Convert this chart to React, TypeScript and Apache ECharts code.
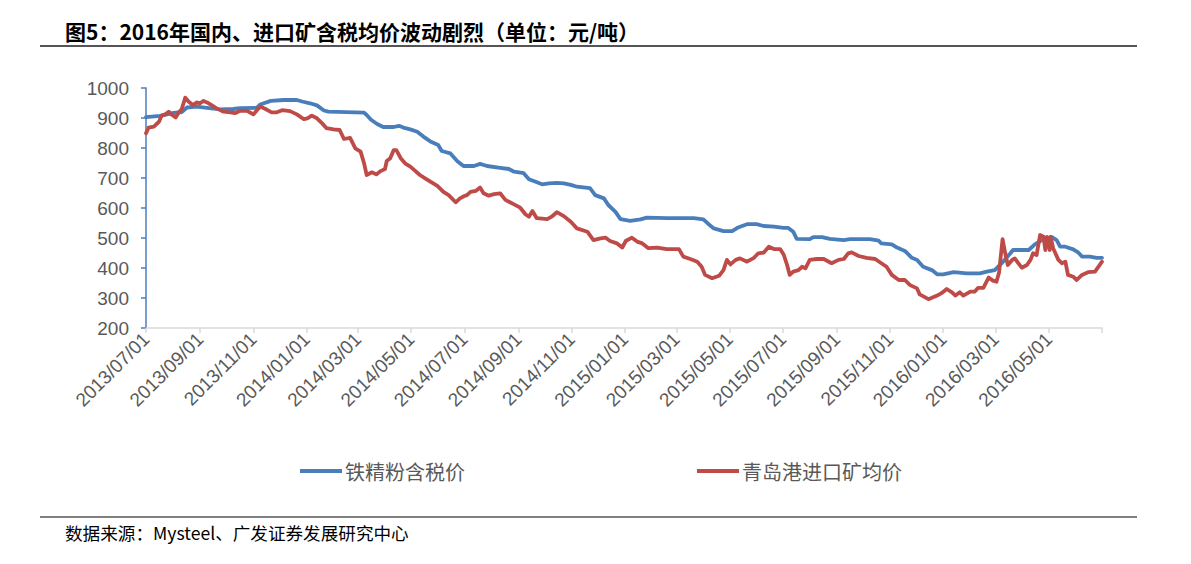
import { useEffect, useRef } from 'react';
import * as echarts from 'echarts';

const AXIS_START = '2013/07/01';
const AXIS_END = '2016/07/01';

const tickLabels = [
  '2013/07/01', '2013/09/01', '2013/11/01', '2014/01/01', '2014/03/01', '2014/05/01',
  '2014/07/01', '2014/09/01', '2014/11/01', '2015/01/01', '2015/03/01', '2015/05/01',
  '2015/07/01', '2015/09/01', '2015/11/01', '2016/01/01', '2016/03/01', '2016/05/01',
];
const extraTicks = ['2016/07/01'];

const yTicks = { min: 200, max: 1000, interval: 100 };

const seriesNames = ['铁精粉含税价', '青岛港进口矿均价'];

const domesticPrice: [string, number][] = [
  ['2013/07/01', 903], ['2013/07/17', 907], ['2013/07/25', 912], ['2013/08/02', 917], ['2013/08/11', 920],
  ['2013/08/17', 935], ['2013/08/28', 938], ['2013/09/09', 934], ['2013/09/24', 929], ['2013/10/09', 930],
  ['2013/10/17', 933], ['2013/11/05', 934], ['2013/11/09', 945], ['2013/11/21', 957], ['2013/12/06', 960],
  ['2013/12/21', 960], ['2013/12/27', 955], ['2014/01/05', 949], ['2014/01/13', 942], ['2014/01/21', 925],
  ['2014/01/26', 921], ['2014/03/08', 918], ['2014/03/11', 910], ['2014/03/16', 894], ['2014/03/23', 880],
  ['2014/03/30', 870], ['2014/04/11', 870], ['2014/04/17', 874], ['2014/04/22', 868], ['2014/04/30', 862],
  ['2014/05/08', 854], ['2014/05/15', 838], ['2014/05/23', 822], ['2014/06/01', 810], ['2014/06/05', 790],
  ['2014/06/15', 782], ['2014/06/23', 756], ['2014/06/30', 740], ['2014/07/04', 740], ['2014/07/12', 740],
  ['2014/07/19', 747], ['2014/07/27', 740], ['2014/08/11', 734], ['2014/08/21', 730], ['2014/08/27', 721],
  ['2014/09/07', 716], ['2014/09/13', 696], ['2014/09/20', 688], ['2014/09/28', 679], ['2014/10/06', 682],
  ['2014/10/15', 684], ['2014/10/23', 682], ['2014/10/31', 677], ['2014/11/07', 671], ['2014/11/22', 666],
  ['2014/11/28', 643], ['2014/12/08', 632], ['2014/12/13', 610], ['2014/12/21', 588], ['2014/12/27', 563],
  ['2015/01/07', 557], ['2015/01/19', 562], ['2015/01/26', 568], ['2015/02/18', 566], ['2015/03/21', 566],
  ['2015/04/01', 562], ['2015/04/07', 546], ['2015/04/13', 532], ['2015/04/24', 523], ['2015/05/04', 523],
  ['2015/05/10', 534], ['2015/05/21', 546], ['2015/06/01', 546], ['2015/06/09', 540], ['2015/06/21', 538],
  ['2015/07/02', 534], ['2015/07/07', 534], ['2015/07/13', 521], ['2015/07/17', 497], ['2015/08/01', 496],
  ['2015/08/05', 503], ['2015/08/15', 503], ['2015/08/24', 497], ['2015/09/09', 493], ['2015/09/16', 496],
  ['2015/10/09', 496], ['2015/10/19', 491], ['2015/10/22', 482], ['2015/11/03', 479], ['2015/11/09', 468],
  ['2015/11/18', 457], ['2015/11/26', 434], ['2015/12/02', 427], ['2015/12/09', 404], ['2015/12/19', 393],
  ['2015/12/25', 379], ['2016/01/01', 379], ['2016/01/13', 386], ['2016/01/28', 382], ['2016/02/12', 382],
  ['2016/02/20', 388], ['2016/02/29', 393], ['2016/03/08', 416], ['2016/03/18', 449], ['2016/03/21', 460],
  ['2016/04/08', 460], ['2016/04/15', 479], ['2016/04/23', 493], ['2016/04/29', 497], ['2016/05/04', 504],
  ['2016/05/10', 493], ['2016/05/14', 471], ['2016/05/20', 471], ['2016/05/29', 462], ['2016/06/04', 451],
  ['2016/06/08', 438], ['2016/06/17', 438], ['2016/06/25', 434], ['2016/07/01', 434],
];

const importPrice: [string, number][] = [
  ['2013/07/01', 849], ['2013/07/04', 868], ['2013/07/10', 871], ['2013/07/16', 888], ['2013/07/19', 908],
  ['2013/07/23', 912], ['2013/07/27', 921], ['2013/07/31', 910], ['2013/08/04', 902], ['2013/08/07', 916],
  ['2013/08/11', 930], ['2013/08/15', 968], ['2013/08/19', 954], ['2013/08/24', 943], ['2013/08/28', 952],
  ['2013/09/01', 949], ['2013/09/05', 957], ['2013/09/09', 952], ['2013/09/15', 941], ['2013/09/20', 932],
  ['2013/09/28', 921], ['2013/10/06', 919], ['2013/10/11', 916], ['2013/10/17', 924], ['2013/10/25', 924],
  ['2013/11/01', 912], ['2013/11/09', 938], ['2013/11/15', 930], ['2013/11/22', 919], ['2013/11/28', 919],
  ['2013/12/04', 926], ['2013/12/13', 923], ['2013/12/21', 912], ['2013/12/29', 896], ['2014/01/02', 899],
  ['2014/01/07', 908], ['2014/01/13', 899], ['2014/01/19', 882], ['2014/01/24', 866], ['2014/02/01', 862],
  ['2014/02/08', 860], ['2014/02/13', 830], ['2014/02/20', 834], ['2014/02/26', 799], ['2014/03/04', 788],
  ['2014/03/08', 749], ['2014/03/11', 710], ['2014/03/17', 719], ['2014/03/22', 712], ['2014/03/27', 723],
  ['2014/04/01', 730], ['2014/04/03', 757], ['2014/04/07', 766], ['2014/04/11', 793], ['2014/04/14', 793],
  ['2014/04/19', 766], ['2014/04/24', 749], ['2014/04/30', 738], ['2014/05/06', 723], ['2014/05/11', 710],
  ['2014/05/17', 699], ['2014/05/23', 688], ['2014/05/31', 674], ['2014/06/07', 654], ['2014/06/13', 643],
  ['2014/06/21', 619], ['2014/06/26', 632], ['2014/07/01', 640], ['2014/07/04', 643], ['2014/07/08', 654],
  ['2014/07/14', 657], ['2014/07/19', 668], ['2014/07/23', 649], ['2014/07/29', 641], ['2014/08/04', 646],
  ['2014/08/11', 649], ['2014/08/17', 627], ['2014/08/27', 612], ['2014/09/03', 601], ['2014/09/09', 579],
  ['2014/09/13', 571], ['2014/09/17', 590], ['2014/09/22', 566], ['2014/10/04', 563], ['2014/10/09', 571],
  ['2014/10/15', 586], ['2014/10/23', 573], ['2014/10/31', 554], ['2014/11/07', 532], ['2014/11/19', 521],
  ['2014/11/26', 493], ['2014/12/04', 499], ['2014/12/10', 501], ['2014/12/15', 490], ['2014/12/23', 482],
  ['2014/12/29', 468], ['2015/01/02', 490], ['2015/01/09', 501], ['2015/01/15', 488], ['2015/01/21', 482],
  ['2015/01/28', 466], ['2015/02/07', 468], ['2015/02/18', 463], ['2015/03/04', 463], ['2015/03/09', 438],
  ['2015/03/17', 430], ['2015/03/25', 421], ['2015/03/30', 404], ['2015/04/03', 377], ['2015/04/11', 366],
  ['2015/04/19', 374], ['2015/04/24', 393], ['2015/04/28', 427], ['2015/05/02', 412], ['2015/05/08', 427],
  ['2015/05/13', 432], ['2015/05/21', 421], ['2015/05/29', 434], ['2015/06/03', 449], ['2015/06/09', 451],
  ['2015/06/15', 471], ['2015/06/21', 463], ['2015/06/28', 463], ['2015/07/02', 445], ['2015/07/06', 410],
  ['2015/07/09', 377], ['2015/07/13', 388], ['2015/07/19', 393], ['2015/07/23', 404], ['2015/07/27', 399],
  ['2015/08/01', 427], ['2015/08/09', 430], ['2015/08/17', 430], ['2015/08/26', 416], ['2015/09/03', 427],
  ['2015/09/09', 430], ['2015/09/14', 449], ['2015/09/18', 452], ['2015/09/26', 440], ['2015/10/05', 434],
  ['2015/10/15', 430], ['2015/10/22', 416], ['2015/10/28', 404], ['2015/11/03', 377], ['2015/11/11', 360],
  ['2015/11/18', 360], ['2015/11/24', 343], ['2015/12/02', 332], ['2015/12/05', 312], ['2015/12/15', 296],
  ['2015/12/25', 308], ['2015/12/30', 316], ['2016/01/05', 330], ['2016/01/11', 319], ['2016/01/15', 308],
  ['2016/01/20', 319], ['2016/01/24', 308], ['2016/02/01', 321], ['2016/02/06', 321], ['2016/02/10', 334],
  ['2016/02/16', 334], ['2016/02/22', 368], ['2016/02/27', 358], ['2016/03/02', 354], ['2016/03/05', 385],
  ['2016/03/09', 496], ['2016/03/12', 450], ['2016/03/15', 410], ['2016/03/20', 427], ['2016/03/23', 432],
  ['2016/03/27', 416], ['2016/03/31', 401], ['2016/04/06', 410], ['2016/04/10', 427], ['2016/04/13', 449],
  ['2016/04/17', 443], ['2016/04/21', 510], ['2016/04/25', 504], ['2016/04/27', 460], ['2016/04/29', 504],
  ['2016/05/02', 460], ['2016/05/03', 504], ['2016/05/06', 466], ['2016/05/12', 427], ['2016/05/16', 416],
  ['2016/05/20', 421], ['2016/05/23', 377], ['2016/05/29', 371], ['2016/06/02', 360], ['2016/06/08', 377],
  ['2016/06/15', 386], ['2016/06/23', 388], ['2016/07/01', 421],
];

function pad(n: number) {
  return n < 10 ? '0' + n : '' + n;
}

function buildDays(start: string, end: string): string[] {
  const [sy, sm, sd] = start.split('/').map(Number);
  const [ey, em, ed] = end.split('/').map(Number);
  const out: string[] = [];
  let t = Date.UTC(sy, sm - 1, sd);
  const stop = Date.UTC(ey, em - 1, ed);
  while (t <= stop) {
    const d = new Date(t);
    out.push(`${d.getUTCFullYear()}/${pad(d.getUTCMonth() + 1)}/${pad(d.getUTCDate())}`);
    t += 86400000;
  }
  return out;
}

const BLUE = '#4A7EBB';
const RED = '#BE4B48';
const LABEL = '#595959';

export default function App() {
  const ref = useRef<HTMLDivElement>(null);
  useEffect(() => {
    if (!ref.current) return;
    const chart = echarts.init(ref.current, null, { renderer: 'svg' });
    const days = buildDays(AXIS_START, AXIS_END);
    const labelSet = new Set(tickLabels);
    const tickSet = new Set([...tickLabels, ...extraTicks]);
    const legendBase = {
      top: 461,
      padding: 0,
      icon: 'rect',
      itemWidth: 42,
      itemHeight: 4,
      itemGap: 0,
      textStyle: { fontSize: 20, color: LABEL, fontFamily: 'Noto Sans CJK SC', padding: [0, 0, 0, -2] },
    };
    chart.setOption({
      animation: false,
      backgroundColor: '#ffffff',
      grid: { left: 146, top: 88, width: 956, height: 240, containLabel: false },
      legend: [
        { ...legendBase, data: [seriesNames[0]], left: 300 },
        { ...legendBase, data: [seriesNames[1]], left: 697 },
      ],
      xAxis: {
        type: 'category',
        data: days,
        boundaryGap: false,
        axisLine: { show: true, lineStyle: { color: '#D9D9D9', width: 1.5 } },
        axisTick: {
          show: true,
          length: 5,
          inside: false,
          interval: (_i: number, v: string) => tickSet.has(v),
          lineStyle: { color: '#D9D9D9', width: 1.5 },
        },
        axisLabel: {
          interval: (_i: number, v: string) => labelSet.has(v),
          rotate: 45,
          margin: 8,
          color: LABEL,
          fontSize: 19,
          fontFamily: 'Liberation Sans, Arial, sans-serif',
        },
        splitLine: { show: false },
      },
      yAxis: {
        type: 'value',
        min: yTicks.min,
        max: yTicks.max,
        interval: yTicks.interval,
        axisLine: { show: true, lineStyle: { color: BLUE, width: 1.5 } },
        axisTick: { show: true, length: 5, lineStyle: { color: BLUE, width: 1.5 } },
        axisLabel: {
          color: LABEL,
          fontSize: 19,
          margin: 17,
          formatter: (v: number) => String(v),
          fontFamily: 'Liberation Sans, Arial, sans-serif',
        },
        splitLine: { show: false },
      },
      series: [
        {
          name: seriesNames[0],
          type: 'line',
          data: domesticPrice,
          showSymbol: false,
          symbol: 'none',
          color: BLUE,
          lineStyle: { color: BLUE, width: 3.8, join: 'round', cap: 'round' },
          z: 3,
        },
        {
          name: seriesNames[1],
          type: 'line',
          data: importPrice,
          showSymbol: false,
          symbol: 'none',
          color: RED,
          lineStyle: { color: RED, width: 3.8, join: 'round', cap: 'round' },
          z: 4,
        },
      ],
      graphic: [
        {
          type: 'text',
          left: 65,
          top: 20,
          style: {
            text: '图5：2016年国内、进口矿含税均价波动剧烈（单位：元/吨）',
            fontSize: 21,
            fontWeight: 'bold',
            fill: '#000000',
            fontFamily: 'Noto Sans CJK SC',
          },
        },
        {
          type: 'line',
          shape: { x1: 40, y1: 46, x2: 1137, y2: 46 },
          style: { stroke: '#555555', lineWidth: 2 },
        },
        {
          type: 'line',
          shape: { x1: 40, y1: 517, x2: 1137, y2: 517 },
          style: { stroke: '#555555', lineWidth: 1.5 },
        },
        {
          type: 'text',
          left: 65,
          top: 524,
          style: {
            text: '数据来源：Mysteel、广发证券发展研究中心',
            fontSize: 17.6,
            fill: '#000000',
            fontFamily: 'Noto Sans CJK SC',
          },
        },
      ],
    });
    return () => chart.dispose();
  }, []);
  return (
    <div
      ref={ref}
      style={{ position: 'fixed', left: 0, top: 0, width: 1191, height: 564, background: '#fff' }}
    />
  );
}
